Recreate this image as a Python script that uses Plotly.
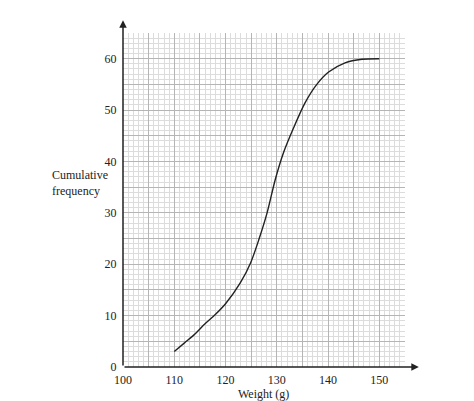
import plotly.graph_objects as go

weights = [110, 112, 113.9, 116, 118, 120, 122.9, 124.9, 126.5, 128.1, 129.7, 131.3, 133.3, 135.5, 137.8, 140.1, 143.3, 146.6, 150]
cumfreq = [3, 4.7, 6.3, 8.4, 10.2, 12.3, 16.4, 20.3, 24.8, 30, 36.5, 41.7, 46.6, 51.4, 55, 57.4, 59.2, 59.9, 60]
x_ticks = list(range(100, 156, 5))
y_ticks = list(range(0, 66, 5))

font = dict(family="Liberation Serif", size=12, color="#222")

fig = go.Figure(go.Scatter(x=weights, y=cumfreq, mode="lines",
                           line=dict(color="#222", width=1.4, shape="spline", smoothing=0.8),
                           hoverinfo="skip"))
fig.update_layout(
    width=474, height=401, margin=dict(l=115, r=77, t=25, b=42, autoexpand=False),
    paper_bgcolor="white", plot_bgcolor="white", showlegend=False, font=font,
    xaxis=dict(range=[100, 155], tickvals=x_ticks, automargin=False,
               ticktext=[str(v) if v % 10 == 0 and v <= 150 else "" for v in x_ticks],
               showgrid=True, gridcolor="#b5b5b5", gridwidth=1,
               minor=dict(dtick=1, showgrid=True, gridcolor="#dcdcdc", gridwidth=1),
               zeroline=False, showline=False, ticks="outside", ticklen=2, tickcolor="rgba(0,0,0,0)",
               tickfont=font),
    yaxis=dict(range=[0, 65], tickvals=y_ticks, automargin=False,
               ticktext=[str(v) if v % 10 == 0 and v <= 60 else "" for v in y_ticks],
               showgrid=True, gridcolor="#b5b5b5", gridwidth=1,
               minor=dict(dtick=1, showgrid=True, gridcolor="#dcdcdc", gridwidth=1),
               zeroline=False, showline=False, ticks="outside", ticklen=3, tickcolor="rgba(0,0,0,0)",
               tickfont=font),
    annotations=[
        dict(x=157.7, y=0, xref="x", yref="y", ax=100, ay=0, axref="x", ayref="y",
             showarrow=True, arrowhead=2, arrowsize=1, arrowwidth=1.5, arrowcolor="#222", text=""),
        dict(x=100, y=67.5, xref="x", yref="y", ax=100, ay=0, axref="x", ayref="y",
             showarrow=True, arrowhead=2, arrowsize=1, arrowwidth=1.5, arrowcolor="#222", text=""),
        dict(x=(42 - 115) / 282, y=(359 - 175) / 334, xref="paper", yref="paper",
             text="Cumulative<br>frequency", showarrow=False, xanchor="left", yanchor="middle",
             align="left", font=font),
        dict(x=(255 - 115) / 282, y=(359 - 386) / 334, xref="paper", yref="paper",
             text="Weight (g)", showarrow=False, yanchor="middle", font=font),
    ],
)
fig.write_html("out.html")
